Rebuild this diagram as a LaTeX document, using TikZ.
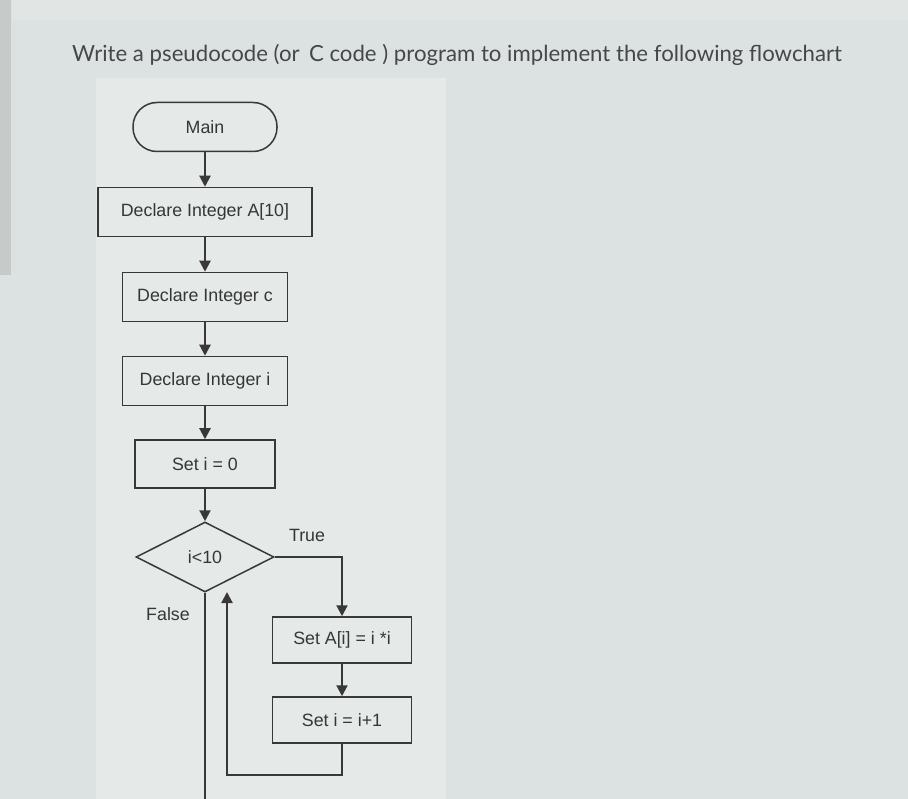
\documentclass[tikz,border=0pt]{standalone}
\usepackage{fontspec}
\setmainfont{Liberation Sans}
\newfontfamily\titlefont{Lato}
\usetikzlibrary{shapes.geometric,arrows.meta}
\definecolor{bgc}{HTML}{DCE2E1}
\definecolor{panelc}{HTML}{E5E9E8}
\definecolor{linec}{HTML}{383838}
\definecolor{txtc}{HTML}{363636}
\begin{document}
\begin{tikzpicture}[x=1pt,y=-1pt,
  every node/.style={text=txtc},
  box/.style={draw=linec,line width=1.5pt,fill=panelc,inner sep=0pt,font=\fontsize{17.8}{20}\selectfont},
  term/.style={box,rounded corners=24pt},
  dec/.style={box,diamond,aspect=2},
  flow/.style={draw=linec,line width=2.2pt,-{Triangle[length=11pt,width=11pt]}},
  lbl/.style={font=\fontsize{17.8}{20}\selectfont,inner sep=0pt}]
\clip (0,0) rectangle (908,799);
\useasboundingbox (0,0) rectangle (908,799);
\fill[bgc] (0,0) rectangle (908,799);
\fill[panelc!60!bgc] (12,0) rectangle (908,20);
\fill[black!10!bgc] (0,0) rectangle (11,275);
\fill[panelc] (96,78) rectangle (446,799);
% title
\node[anchor=base west,inner sep=0pt,font=\titlefont\fontsize{22.2}{24}\selectfont,text=black!72] (title) at (72,62)
  {Write a pseudocode (or\, C code ) program to implement the following flowchart};
% nodes
\node[term,minimum width=144pt,minimum height=49pt] (main) at (205,127) {Main};
\node[box,minimum width=214pt,minimum height=49pt] (decA) at (205,212) {Declare Integer A[10]};
\node[box,minimum width=165pt,minimum height=49pt] (decC) at (205,297) {Declare Integer c};
\node[box,minimum width=165pt,minimum height=49pt] (decI) at (205,381) {Declare Integer i};
\node[box,minimum width=140pt,minimum height=48pt] (seti) at (205,464) {Set i = 0};
\node[dec,minimum width=138pt,minimum height=70pt] (cond) at (205,557) {i<10};
\node[box,minimum width=139pt,minimum height=46pt] (setA) at (342,640) {Set A[i] = i *i};
\node[box,minimum width=139pt,minimum height=46pt] (inc) at (342,720) {Set i = i+1};
\node[lbl] (true) at (307,535) {True};
\node[lbl] (false) at (168,614) {False};
\coordinate (loopR) at (342,775);
\coordinate (loopL) at (227,775);
\coordinate (loopTop) at (227,592);
\coordinate (exit) at (205,812);
% connectors
\draw[flow] (main) -- (decA);
\draw[flow] (decA) -- (decC);
\draw[flow] (decC) -- (decI);
\draw[flow] (decI) -- (seti);
\draw[flow] (seti) -- (cond);
\draw[flow] (cond.east) -| (setA.north);
\draw[flow] (setA) -- (inc);
\draw[flow] (inc.south) -- (loopR) -- (loopL) -- (loopTop);
\draw[flow] (cond.south) -- (exit);
\end{tikzpicture}
\end{document}
